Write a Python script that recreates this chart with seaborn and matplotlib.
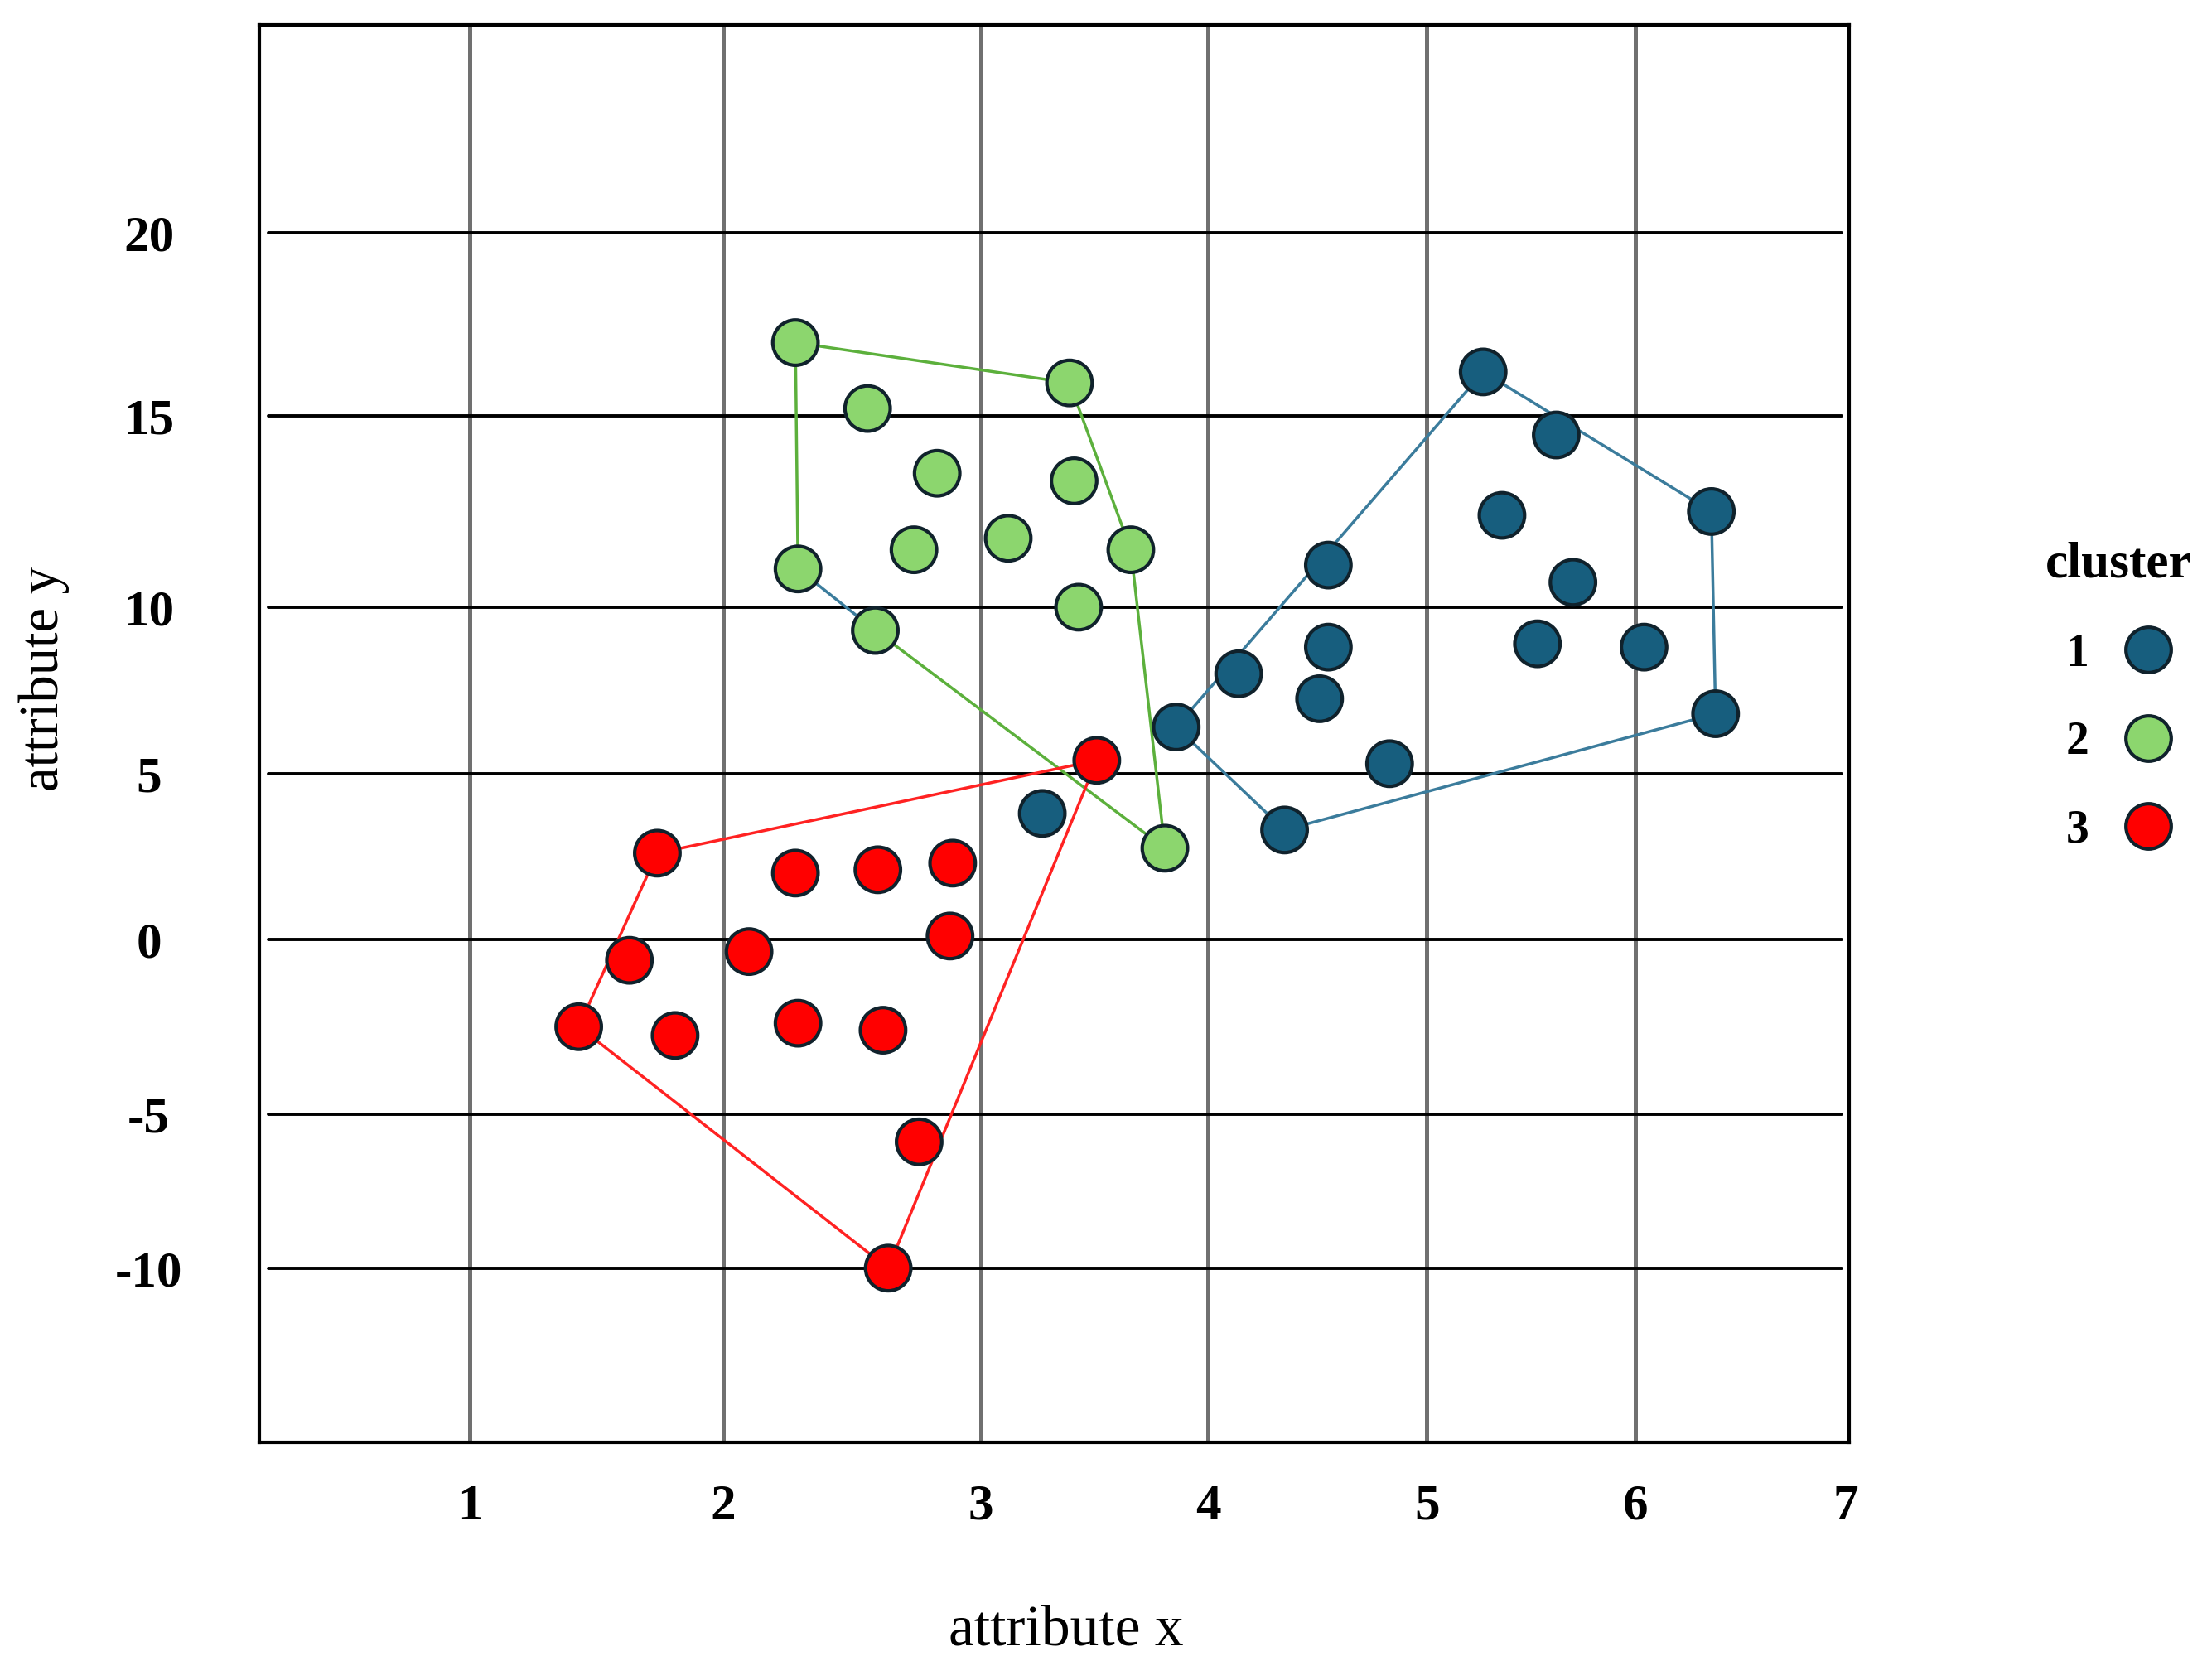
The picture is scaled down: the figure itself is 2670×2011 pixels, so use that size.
import numpy as np
import pandas as pd
import matplotlib
matplotlib.use("Agg")
import matplotlib.pyplot as plt
import seaborn as sns

# cluster 1 (blue)
c1_x = [5.27, 5.62, 6.36, 5.36, 5.70, 4.55, 4.55, 5.53, 6.04, 4.14, 4.51, 3.86, 6.38, 4.83, 4.35, 3.27]
c1_y = [16.2, 14.5, 12.5, 12.4, 10.65, 11.1, 8.8, 8.9, 8.8, 8.0, 7.25, 6.4, 6.8, 5.3, 3.3, 3.8]
# cluster 2 (green)
c2_x = [2.28, 3.39, 2.56, 2.83, 3.41, 2.74, 3.12, 3.66, 2.29, 3.43, 2.59, 3.81]
c2_y = [17.0, 15.9, 15.2, 13.5, 13.3, 11.5, 11.8, 11.5, 11.0, 10.0, 9.3, 2.75]
# cluster 3 (red)
c3_x = [3.51, 1.74, 2.28, 2.60, 2.89, 2.88, 1.63, 2.10, 1.43, 1.81, 2.29, 2.62, 2.76, 2.64]
c3_y = [5.4, 2.6, 2.0, 2.1, 2.3, 0.1, -0.6, -0.35, -2.5, -2.75, -2.4, -2.6, -5.9, -10.0]

# outline order, as indices into each cluster
hull1 = [0, 2, 12, 14, 11, 0]
hull2 = [8, 0, 1, 7, 11, 10]
hull2_tail = [10, 8]   # this edge is blue in the original drawing
hull3 = [1, 0, 13, 8, 1]

x_ticks = [1, 2, 3, 4, 5, 6, 7]
y_ticks = [-10, -5, 0, 5, 10, 15, 20]

colors = {"1": "#175e7e", "2": "#8cd66e", "3": "#ff0000"}
line_colors = {"1": "#3b7c9c", "2": "#5cb03c", "3": "#ff2222"}

# the grid is hand drawn, so tick spacing is uneven -> piecewise linear scale
x_knots = [0, 1, 2, 3, 4, 5, 6, 7, 8]
x_pos = [261, 567, 873, 1184, 1458, 1722, 1974, 2228, 2482]
y_knots = [-20, -10, -5, 0, 5, 10, 15, 20, 30]
y_pos = [-1903, -1531, -1345, -1134, -934, -733, -502, -281, 161]

df = pd.DataFrame({
    "x": c1_x + c2_x + c3_x,
    "y": c1_y + c2_y + c3_y,
    "cluster": ["1"] * len(c1_x) + ["2"] * len(c2_x) + ["3"] * len(c3_x),
})

sns.set_style("white")
plt.rcParams["font.family"] = ["Liberation Serif", "DejaVu Serif"]
plt.rcParams["text.color"] = "black"
plt.rcParams["axes.labelcolor"] = "black"
plt.rcParams["xtick.color"] = "black"
plt.rcParams["ytick.color"] = "black"

fig = plt.figure(figsize=(26.7, 20.11), dpi=100)
ax = fig.add_axes([0.1172, 0.1343, 0.7188, 0.8508])

ax.set_xscale("function", functions=(lambda v: np.interp(v, x_knots, x_pos),
                                     lambda u: np.interp(u, x_pos, x_knots)))
ax.set_yscale("function", functions=(lambda v: np.interp(v, y_knots, y_pos),
                                     lambda u: np.interp(u, y_pos, y_knots)))

for xv in x_ticks[:-1]:
    ax.axvline(xv, color="#707070", lw=3.6, zorder=1)
for yv in y_ticks:
    ax.axhline(yv, xmin=0.006, xmax=0.995, color="black", lw=2.8, zorder=1)


def outline(xs, ys, idx, color):
    ax.plot([xs[i] for i in idx], [ys[i] for i in idx], color=color, lw=2.5, zorder=2)


outline(c1_x, c1_y, hull1, line_colors["1"])
outline(c2_x, c2_y, hull2, line_colors["2"])
outline(c2_x, c2_y, hull2_tail, line_colors["1"])
outline(c3_x, c3_y, hull3, line_colors["3"])

sns.scatterplot(data=df, x="x", y="y", hue="cluster", palette=colors,
                s=1550, edgecolor="#10222c", linewidth=3, ax=ax, zorder=3)

ax.set_xlim(0.17, 7.015)
ax.set_ylim(-15.65, 25.68)
ax.set_xticks(x_ticks)
ax.set_xticklabels([str(t) for t in x_ticks])
ax.set_yticks(y_ticks)
ax.set_yticklabels([str(t) for t in y_ticks])
ax.minorticks_off()
ax.tick_params(axis="both", length=0, labelsize=44)
ax.tick_params(axis="y", pad=96)
ax.tick_params(axis="x", pad=56)
for t in ax.get_yticklabels():
    t.set_fontweight("bold")
    t.set_horizontalalignment("center")
for t in ax.get_xticklabels():
    t.set_fontweight("bold")
    t.set_verticalalignment("center")

for sp in ax.spines.values():
    sp.set_color("black")
    sp.set_linewidth(3)
    sp.set_zorder(4)

ax.set_xlabel("attribute x", fontsize=50, va="center")
ax.set_ylabel("attribute y", fontsize=48, va="center")
ax.xaxis.set_label_coords(0.5076, -0.133)
ax.yaxis.set_label_coords(-0.1355, 0.539)

sns.move_legend(ax, "upper left", bbox_to_anchor=(0.906, 0.700),
                bbox_transform=fig.transFigure, frameon=False, markerfirst=False,
                title="cluster", fontsize=40, title_fontsize=44,
                labelspacing=0.98, handlelength=1.0, handletextpad=0.8)
leg = ax.get_legend()
leg.get_title().set_fontweight("bold")
for t in leg.get_texts():
    t.set_fontweight("bold")

fig.savefig("out.png", dpi=100)
